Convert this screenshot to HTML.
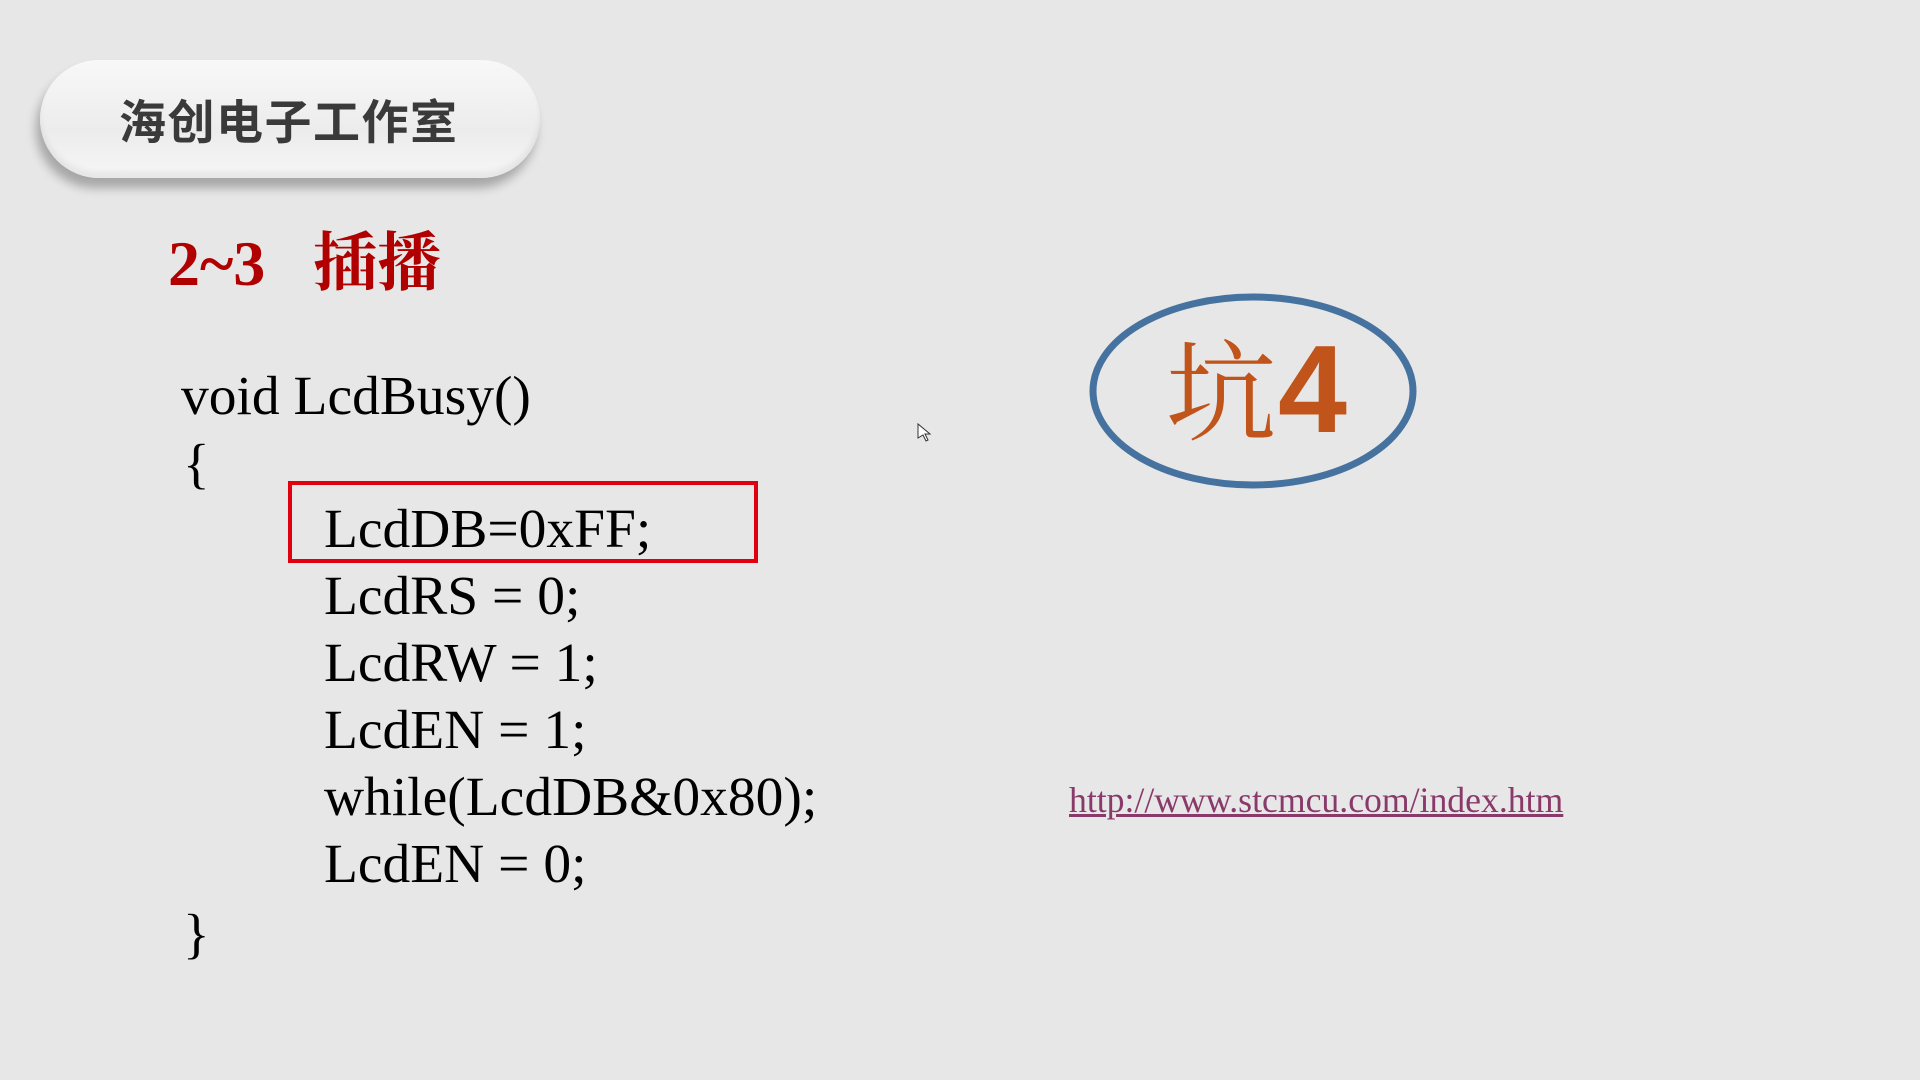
<!DOCTYPE html>
<html><head><meta charset="utf-8"><style>
html,body{margin:0;padding:0}
body{width:1920px;height:1080px;background:#e7e7e7;position:relative;overflow:hidden;font-family:"Liberation Serif","Noto Serif CJK SC",serif}
.pill{position:absolute;left:40px;top:60px;width:500px;height:118px;border-radius:59px;background:linear-gradient(180deg,#f8f8f8 0%,#ececec 60%,#f6f6f6 100%);box-shadow:-4px 10px 10px rgba(0,0,0,0.28),inset 0 -6px 6px rgba(0,0,0,0.06)}
.pill span{position:absolute;left:79px;top:31px;font:bold 47px "Noto Sans CJK SC",sans-serif;color:#3a3a3a;letter-spacing:1.5px;line-height:56px}
.t{position:absolute;white-space:nowrap;line-height:1}
.code{font-size:55.5px;color:#000}
</style></head><body>
<div class="pill"><span>海创电子工作室</span></div>
<div class="t" style="left:168px;top:232px;font-size:64px;font-weight:bold;color:#b00000;font-family:'Liberation Serif','Noto Serif CJK SC',serif">2~3&nbsp;&nbsp;&nbsp;插播</div>
<div class="t code" style="left:181px;top:369px">void LcdBusy()</div>
<div class="t code" style="left:183px;top:437px">{</div>
<div style="position:absolute;left:288px;top:481px;width:462px;height:74px;border:4px solid #e00010"></div>
<div class="t code" style="left:324px;top:502px">LcdDB=0xFF;</div>
<div class="t code" style="left:324px;top:569px">LcdRS = 0;</div>
<div class="t code" style="left:324px;top:636px">LcdRW = 1;</div>
<div class="t code" style="left:324px;top:703px">LcdEN = 1;</div>
<div class="t code" style="left:324px;top:770px">while(LcdDB&amp;0x80);</div>
<div class="t code" style="left:324px;top:837px">LcdEN = 0;</div>
<div class="t code" style="left:183px;top:907px">}</div>
<svg style="position:absolute;left:0;top:0" width="1920" height="1080">
<ellipse cx="1253" cy="391" rx="160" ry="94" fill="none" stroke="#4672a0" stroke-width="7"/>
<path d="M918 424 l0 14 l5 -3 l3 6 l2 -1 l-3 -6 l5 0 z" fill="#fff" stroke="#333" stroke-width="1"/>
</svg>
<div class="t" style="left:1166px;top:328px;font-size:110px;color:#c0541a;font-family:'Noto Serif CJK SC',serif">坑<span style="font-family:'Liberation Sans',sans-serif;font-weight:bold;font-size:124px;margin-left:2px">4</span></div>
<div class="t" style="left:1069px;top:783px;font-size:35.7px;color:#8a3a6a;text-decoration:underline">http://www.stcmcu.com/index.htm</div>
</body></html>
